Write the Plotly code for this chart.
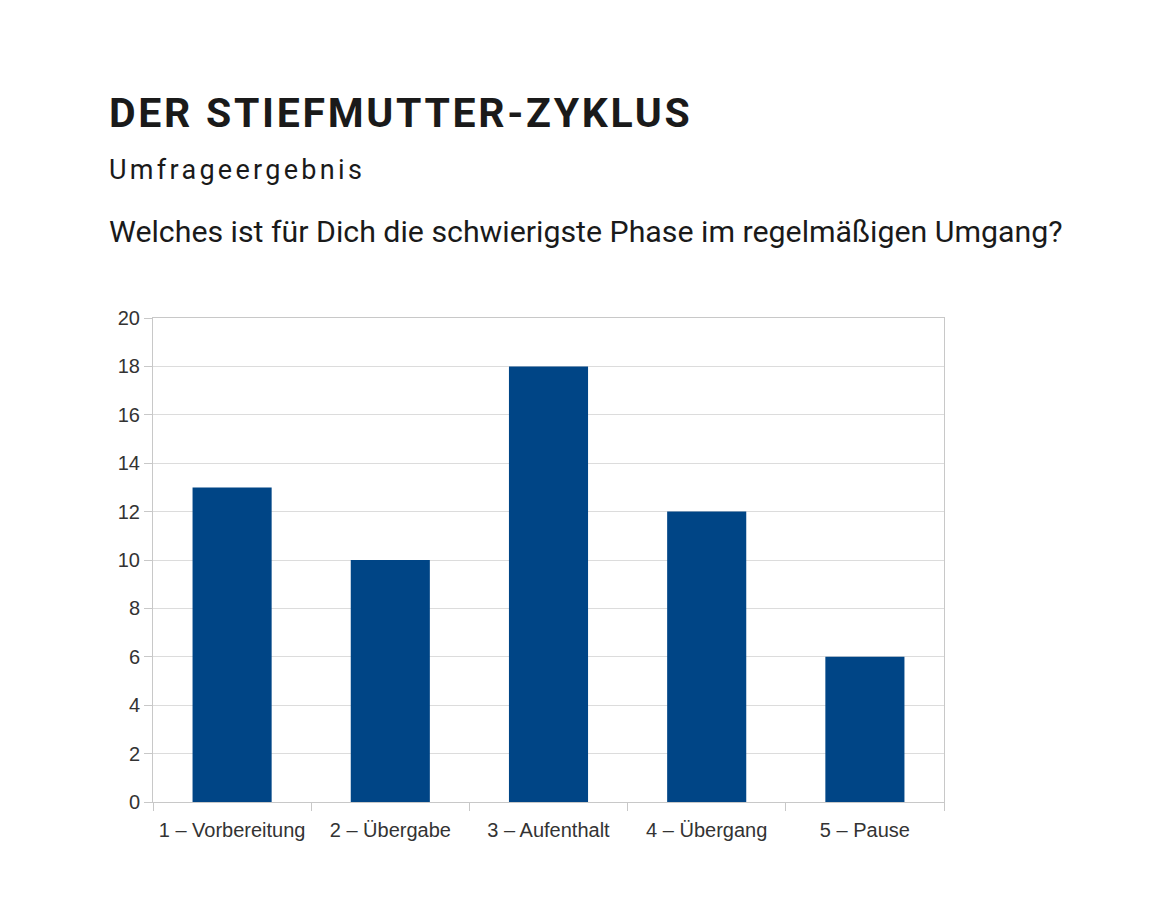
import plotly.graph_objects as go

categories = ["1 – Vorbereitung", "2 – Übergabe", "3 – Aufenthalt", "4 – Übergang", "5 – Pause"]
values = [13, 10, 18, 12, 6]
y_ticks = [0, 2, 4, 6, 8, 10, 12, 14, 16, 18, 20]

W, H = 1168, 924
# plot area in figure coordinates (page adds an 8px body margin)
L, R, T, B = 145, 936, 310, 794

def px(x):
    return (x - L) / (R - L)

def py(y):
    return (B - y) / (B - T)

fig = go.Figure(go.Bar(x=categories, y=values, marker=dict(color="#004586", line=dict(width=0))))

fig.update_layout(
    width=W, height=H,
    margin=dict(l=L, r=W - R, t=T, b=H - B, pad=0),
    paper_bgcolor="white", plot_bgcolor="white",
    bargap=0.5, showlegend=False,
    font=dict(family="Liberation Sans, Arial, sans-serif", color="#333333"),
)
fig.update_xaxes(
    showgrid=False, showline=True, linecolor="#c8c8c8", linewidth=1, mirror=True,
    ticks="outside", tickson="boundaries", ticklen=8, tickcolor="#c8c8c8",
    ticklabelstandoff=10,
    tickfont=dict(size=20, color="#333333"),
)
fig.update_yaxes(
    range=[0, 20], tickvals=y_ticks, showgrid=True, gridcolor="#dcdcdc",
    showline=True, linecolor="#c8c8c8", linewidth=1, mirror=True,
    ticks="outside", ticklen=8, tickcolor="#c8c8c8",
    tickfont=dict(size=20, color="#333333"), zeroline=False,
)

fig.add_annotation(x=px(99), y=py(105), xref="paper", yref="paper", xanchor="left", yanchor="middle",
                   text="<b><span style='letter-spacing:2.7px'>DER STIEFMUTTER-ZYKLUS</span></b>",
                   showarrow=False, font=dict(family="Roboto", size=41, color="#1a1a1a"))
fig.add_annotation(x=px(99), y=py(162), xref="paper", yref="paper", xanchor="left", yanchor="middle",
                   text="<span style='letter-spacing:3.3px'>Umfrageergebnis</span>",
                   showarrow=False, font=dict(family="Roboto", size=27, color="#1a1a1a"))
fig.add_annotation(x=px(99), y=py(223), xref="paper", yref="paper", xanchor="left", yanchor="middle",
                   text="Welches ist für Dich die schwierigste Phase im regelmäßigen Umgang?",
                   showarrow=False, font=dict(family="Roboto", size=30.3, color="#1a1a1a"))

fig.write_html("out.html")
